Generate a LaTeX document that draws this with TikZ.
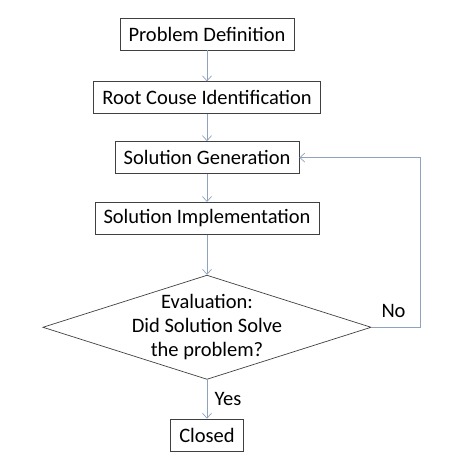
\documentclass[tikz,border=0pt]{standalone}
\usepackage{fontspec}
\setmainfont{Carlito}
\usetikzlibrary{shapes.geometric, arrows.meta, positioning, calc}
\definecolor{flowLine}{RGB}{143, 163, 191}
\definecolor{boxEdge}{RGB}{64, 64, 64}

\begin{document}
\begin{tikzpicture}[
    font=\fontsize{20.5}{24}\selectfont,
    % Cajas de proceso
    block/.style={
        draw=boxEdge,
        line width=0.8pt,
        minimum height=32pt,
        inner xsep=8.5pt,
        align=center
    },
    % Rombo de decision
    decision/.style={
        diamond,
        draw=boxEdge,
        line width=0.7pt,
        aspect=3.15,
        inner xsep=0pt,
        inner ysep=-4.5pt,
        align=center
    },
    % Flechas
    arrow/.style={
        -{Straight Barb[length=5pt, width=9pt]},
        line width=0.7pt,
        flowLine
    },
    % Etiquetas de rama
    branch/.style={
        text=black
    }
]
    \useasboundingbox (0pt,0pt) rectangle (474pt,-474pt);

    % --- Secuencia principal ---
    \node[block] (prob_def) at (207pt,-34pt) {Problem Definition};
    \node[block, below=31pt of prob_def] (root_cause) {Root Couse Identification};
    \node[block, below=27pt of root_cause] (sol_gen) {Solution Generation};
    \node[block, below=28pt of sol_gen] (sol_impl) {Solution Implementation};

    \draw[arrow] (prob_def) -- (root_cause);
    \draw[arrow] (root_cause) -- (sol_gen);
    \draw[arrow] (sol_gen) -- (sol_impl);

    % --- Evaluacion ---
    \node[decision, below=40pt of sol_impl] (eval) {Evaluation:\\Did Solution Solve\\the problem?};
    \draw[arrow] (sol_impl) -- (eval);

    \node[block, below=39pt of eval] (closed) {Closed};
    \draw[arrow] (eval) -- node[branch, right, xshift=4pt] (yes_label) {Yes} (closed);

    % --- Retorno (No) ---
    \coordinate (loop_corner) at ($(eval.east) + (49pt, 0)$);
    \draw[arrow] (eval.east) -- (loop_corner) |- (sol_gen.east);
    \node[branch] (no_label) at ($(eval.east) + (22pt, 16pt)$) {No};

\end{tikzpicture}
\end{document}
